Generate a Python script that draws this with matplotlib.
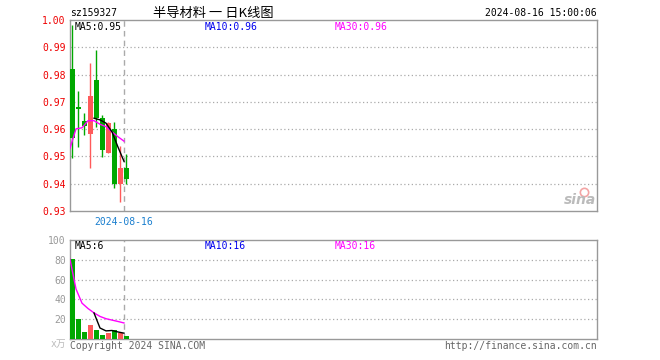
import matplotlib
matplotlib.use("Agg")
import matplotlib.pyplot as plt
import numpy as np

# ---- data ----
symbol = "sz159327"
title = "半导材料 一 日K线图"
timestamp = "2024-08-16 15:00:06"
date_label = "2024-08-16"

open_ = [0.9820, 0.9682, 0.9630, 0.9581, 0.9779, 0.9642, 0.9511, 0.9600, 0.9400, 0.9458]
close = [0.9567, 0.9673, 0.9613, 0.9723, 0.9642, 0.9524, 0.9621, 0.9400, 0.9458, 0.9419]
high = [0.9982, 0.9740, 0.9660, 0.9841, 0.9890, 0.9652, 0.9627, 0.9627, 0.9538, 0.9509]
low = [0.9495, 0.9536, 0.9580, 0.9456, 0.9609, 0.9497, 0.9511, 0.9386, 0.9334, 0.9398]
volume = [80.5, 20.5, 7.5, 14.5, 9.0, 4.5, 6.5, 9.0, 6.5, 3.5]

price_ma5 = [0.9640, 0.9634, 0.9622, 0.9590, 0.9534, 0.9482]       # from day 5
price_ma30 = [0.9530, 0.9601, 0.9605, 0.9631, 0.9631, 0.9618, 0.9609, 0.9590, 0.9572, 0.9556]
vol_ma5 = [26.3, 11.1, 8.2, 8.6, 7.1, 5.9]                           # from day 5
vol_ma30 = [80.5, 50.5, 36.2, 30.8, 26.4, 22.8, 20.5, 19.1, 17.7, 16.2]

price_ticks = [0.93, 0.94, 0.95, 0.96, 0.97, 0.98, 0.99, 1.00]
vol_ticks = [0, 20, 40, 60, 80, 100]
vol_tick_labels = ["x万", "20", "40", "60", "80", "100"]

price_legend = ["MA5:0.95", "MA10:0.96", "MA30:0.96"]
vol_legend = ["MA5:6", "MA10:16", "MA30:16"]

# ---- style ----
RED = "#ff5a5a"
GREEN = "#00a800"
BORDER = "#999999"
GRID = "#aaaaaa"
MONO = ["DejaVu Sans Mono", "Noto Sans CJK SC"]
W, H = 660, 360

fig = plt.figure(figsize=(6.6, 3.6), dpi=100)
fig.patch.set_facecolor("white")

def fx(px):
    return px / W

def fy(py):
    return 1 - py / H

ax = fig.add_axes([fx(70), fy(211), fx(597) - fx(70), fy(20) - fy(211)])
axv = fig.add_axes([fx(70), fy(339), fx(597) - fx(70), fy(240) - fy(339)])

x = np.arange(len(close))
xmin, xmax = -0.38, 87.45
cols = [RED if c >= o else GREEN for o, c in zip(open_, close)]

for a in (ax, axv):
    a.set_xlim(xmin, xmax)
    a.set_xticks([])
    for s in a.spines.values():
        s.set_color(BORDER)
        s.set_linewidth(1.0)
    a.tick_params(axis="y", length=0, pad=3)

# ---- price panel ----
ax.set_ylim(0.93, 1.00)
for t in price_ticks[1:-1]:
    ax.axhline(t, color=GRID, lw=0.9, ls=(0, (1, 2)), zorder=0)
ax.vlines(x, low, high, colors=cols, lw=1.0, zorder=2)
bottoms = [min(o, c) for o, c in zip(open_, close)]
heights = [max(abs(c - o), 0.0003) for o, c in zip(open_, close)]
ax.bar(x, heights, bottom=bottoms, width=0.8, color=cols, zorder=3)
ax.plot(x - 0.38, price_ma30, color="#ff00ff", lw=1.0, zorder=4)
ax.plot(x[4:] - 0.38, price_ma5, color="black", lw=1.0, zorder=5)
ax.set_yticks(price_ticks)
ax.set_yticklabels([f"{t:.2f}" for t in price_ticks], family=MONO, fontsize=7, color="#ee0000")
ax.axvline(x[-1] - 0.3, color=GRID, lw=1.0, ls=(0, (4, 3)), zorder=1)

# ---- volume panel ----
axv.set_ylim(0, 100)
for t in vol_ticks[1:-1]:
    axv.axhline(t, color=GRID, lw=0.9, ls=(0, (1, 2)), zorder=0)
axv.bar(x, volume, width=0.8, color=cols, zorder=3)
axv.plot(x - 0.38, vol_ma30, color="#ff00ff", lw=1.0, zorder=4)
axv.plot(x[4:] - 0.38, vol_ma5, color="black", lw=1.0, zorder=5)
axv.set_yticks(vol_ticks)
axv.set_yticklabels(vol_tick_labels, family=MONO, fontsize=7, color="#999999")
axv.get_yticklabels()[0].set_color("#bbbbbb")
axv.get_yticklabels()[0].set_va("top")
axv.axvline(x[-1] - 0.3, color=GRID, lw=1.0, ls=(0, (4, 3)), zorder=1)

# ---- texts ----
fig.text(fx(70), fy(13), symbol, family=MONO, fontsize=7, ha="left", va="center")
fig.text(fx(213), fy(13), title, family=["Noto Sans CJK SC", "DejaVu Sans"],
         fontsize=9.5, ha="center", va="center")
fig.text(fx(597), fy(13), timestamp, family=MONO, fontsize=7, ha="right", va="center")

leg_x = [75, 205, 335]
leg_c = ["black", "#0000ee", "#ff00ff"]
for lx, lab, c in zip(leg_x, price_legend, leg_c):
    fig.text(fx(lx), fy(27), lab, family=MONO, fontsize=7, color=c, ha="left", va="center")
for lx, lab, c in zip(leg_x, vol_legend, leg_c):
    fig.text(fx(lx), fy(246), lab, family=MONO, fontsize=7, color=c, ha="left", va="center")

fig.text(fx(124), fy(222), date_label, family=MONO, fontsize=7, color="#1a7fcf",
         ha="center", va="center")
fig.text(fx(70), fy(346), "Copyright 2024 SINA.COM", family=MONO, fontsize=7,
         color="#666666", ha="left", va="center")
fig.text(fx(597), fy(346), "http://finance.sina.com.cn", family=MONO, fontsize=7,
         color="#666666", ha="right", va="center")

# sina watermark
fig.text(fx(596), fy(200), "sina", fontsize=10, style="italic", weight="bold",
         color="#bbbbbb", ha="right", va="center", family="DejaVu Sans")
ax.plot([0.975], [0.1], transform=ax.transAxes, marker="o", ms=6, mfc="none",
        mec="#f3a5a5", mew=1.2, clip_on=False)

fig.savefig("out.png", dpi=100)
